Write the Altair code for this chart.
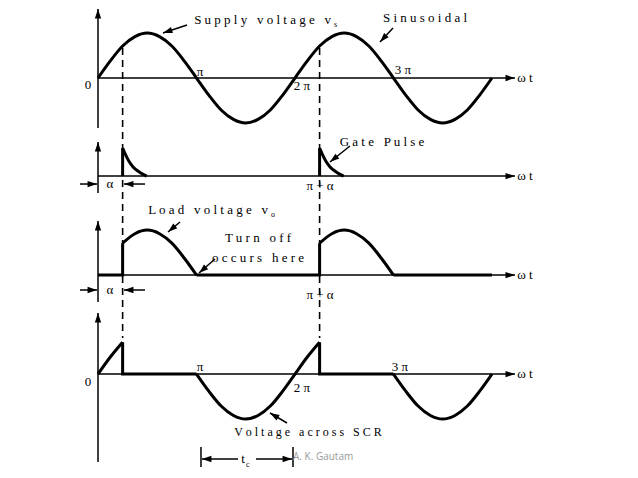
import math
import altair as alt
import pandas as pd

PI = math.pi

# ---------------- values ----------------
# supply voltage over two cycles, sampled every 22.5 degrees (level relative to the peak)
supply_phase_deg = [0, 22.5, 45, 67.5, 90, 112.5, 135, 157.5, 180, 202.5, 225, 247.5, 270, 292.5, 315, 337.5,
                    360, 382.5, 405, 427.5, 450, 472.5, 495, 517.5, 540, 562.5, 585, 607.5, 630, 652.5, 675, 697.5, 720]
supply_level = [0, 0.38, 0.71, 0.92, 1, 0.92, 0.71, 0.38, 0, -0.38, -0.71, -0.92, -1, -0.92, -0.71, -0.38,
                0, 0.38, 0.71, 0.92, 1, 0.92, 0.71, 0.38, 0, -0.38, -0.71, -0.92, -1, -0.92, -0.71, -0.38, 0]
firing_deg = [45, 405]          # alpha and 2*pi + alpha
turnoff_deg = [180, 540]        # pi and 3*pi
end_deg = 720                   # 4*pi
# gate pulse after each firing instant: offset (deg) and height
pulse_offset_deg = [0, 5.5, 11, 18, 26, 33, 44]
pulse_level = [0.62, 0.47, 0.34, 0.22, 0.13, 0.07, 0]

# tick / annotation texts
supply_ticks = ["0", "π", "2 π", "3 π"]
scr_ticks = ["0", "π", "2 π", "3 π"]
axis_label = "ω t"

# ---------------- layout ----------------
W, H = 622, 462
X_DOM = [-2.871, 16.970]
Y_DOM = [-8.711, 1.5556]
PXX = W / (X_DOM[1] - X_DOM[0])
PXY = H / (Y_DOM[1] - Y_DOM[0])
BASE = {"supply": 0.0, "gate": -2.18, "load": -4.38, "scr": -6.58}
X_TIP = 13.30
V_AXES = {"supply": (-1.11, 1.533), "gate": (-2.556, -1.422), "load": (-4.978, -3.178), "scr": (-8.533, -5.222)}

def rad(d):
    return d * PI / 180

lvl = dict(zip(supply_phase_deg, supply_level))
rows_arc, rows_straight, rows_thin, rows_dash, heads = [], [], [], [], []
_seg = [0]

def add(rows, pts):
    _seg[0] += 1
    for i, (x, y) in enumerate(pts):
        rows.append({"x": x, "y": y, "seg": _seg[0], "ord": i})

def arc(lo, hi, base):
    return [(rad(p), base + l) for p, l in zip(supply_phase_deg, supply_level) if lo <= p <= hi]

def arrow(x0, y0, x1, y1):
    add(rows_thin, [(x0, y0), (x1, y1)])
    dx = (x1 - x0) * PXX
    dy = -(y1 - y0) * PXY
    ang = math.degrees(math.atan2(dx, -dy)) % 360
    heads.append({"x": x1, "y": y1, "angle": ang})

# supply
add(rows_arc, arc(0, end_deg, BASE["supply"]))

# gate pulses
for f in firing_deg:
    b = BASE["gate"]
    add(rows_straight, [(rad(f), b), (rad(f), b + pulse_level[0])])
    add(rows_arc, [(rad(f + o), b + l) for o, l in zip(pulse_offset_deg, pulse_level)])

# load voltage
b = BASE["load"]
add(rows_straight, [(0, b), (rad(firing_deg[0]), b), (rad(firing_deg[0]), b + lvl[firing_deg[0]])])
add(rows_arc, arc(firing_deg[0], turnoff_deg[0], b))
add(rows_straight, [(rad(turnoff_deg[0]), b), (rad(firing_deg[1]), b),
                    (rad(firing_deg[1]), b + lvl[firing_deg[1]])])
add(rows_arc, arc(firing_deg[1], turnoff_deg[1], b))
add(rows_straight, [(rad(turnoff_deg[1]), b), (rad(end_deg), b)])

# voltage across SCR
b = BASE["scr"]
add(rows_arc, arc(0, firing_deg[0], b))
add(rows_straight, [(rad(firing_deg[0]), b + lvl[firing_deg[0]]), (rad(firing_deg[0]), b), (rad(turnoff_deg[0]), b)])
add(rows_arc, arc(turnoff_deg[0], firing_deg[1], b))
add(rows_straight, [(rad(firing_deg[1]), b + lvl[firing_deg[1]]), (rad(firing_deg[1]), b), (rad(turnoff_deg[1]), b)])
add(rows_arc, arc(turnoff_deg[1], end_deg, b))

# axes
for k, b in BASE.items():
    arrow(0, b, X_TIP, b)
    lo, hi = V_AXES[k]
    arrow(0, lo, 0, hi)

# dashed firing lines
for f in firing_deg:
    add(rows_dash, [(rad(f), 0.667), (rad(f), -5.778)])

# annotation arrows
arrow(2.839, 1.178, 2.073, 1.0)        # supply voltage
arrow(9.410, 1.111, 8.995, 0.8)        # sinusoidal
arrow(8.038, -1.511, 7.400, -1.867)    # gate pulse
arrow(2.616, -3.2, 2.233, -3.422)      # load voltage
arrow(3.732, -4.022, 3.222, -4.333)    # turn off
arrow(6.029, -7.667, 5.486, -7.444)    # voltage across SCR
for ya in (-2.356, -4.711):            # alpha markers
    arrow(-0.574, ya, -0.032, ya)
    arrow(1.499, ya, 0.829, ya)
# t_c dimension
arrow(4.466, -8.467, 3.317, -8.467)
arrow(5.04, -8.467, 6.188, -8.467)
add(rows_thin, [(3.285, -8.2), (3.285, -8.644)])
add(rows_thin, [(6.22, -8.2), (6.22, -8.644)])

NB = "\u00a0"
texts_center = [
    (-0.319, -0.156, supply_ticks[0], 13), (3.254, 0.133, supply_ticks[1], 13),
    (6.507, -0.178, supply_ticks[2], 13), (9.729, 0.178, supply_ticks[3], 13),
    (13.62, 0.0, axis_label, 13), (13.62, -2.178, axis_label, 13),
    (13.62, -4.378, axis_label, 13), (13.62, -6.578, axis_label, 13),
    (10.43, 1.333, "S i n u s o i d a l", 13),
    (9.059, -1.422, "G a t e" + NB + NB + " P u l s e", 13),
    (0.383, -2.356, "α", 13), (7.081, -2.4, "π + α", 13),
    (5.104, -3.556, "T u r n" + NB + NB + " o f f", 13),
    (5.104, -4.0, "o c c u r s" + NB + NB + " h e r e", 13),
    (0.383, -4.711, "α", 13), (7.081, -4.822, "π + α", 13),
    (-0.319, -6.756, scr_ticks[0], 13), (3.254, -6.422, scr_ticks[1], 13),
    (6.507, -6.889, scr_ticks[2], 13), (9.633, -6.422, scr_ticks[3], 13),
    (6.699, -7.867, "V o l t a g e" + NB + NB + " a c r o s s" + NB + NB + " S C R", 12),
    (4.625, -8.467, "t", 13),
]
texts_right = [
    (7.432, 1.289, "S u p p l y" + NB + NB + " v o l t a g e" + NB + NB + " v", 13),
    (5.423, -2.933, "L o a d" + NB + NB + " v o l t a g e" + NB + NB + " v", 13),
]
texts_left = [
    (7.528, 1.178, "s", 8),
    (5.518, -3.044, "o", 8),
    (4.72, -8.6, "c", 8),
]
credit = [(6.22, -8.422, "A. K. Gautam", 10)]

def tdf(lst):
    return pd.DataFrame(lst, columns=["x", "y", "text", "size"])

xs = alt.X("x:Q", scale=alt.Scale(domain=X_DOM, nice=False, zero=False), axis=None)
ys = alt.Y("y:Q", scale=alt.Scale(domain=Y_DOM, nice=False, zero=False), axis=None)

def lines(rows, **kw):
    return alt.Chart(pd.DataFrame(rows)).mark_line(color="black", **kw).encode(
        x=xs, y=ys, detail="seg:N", order=alt.Order("ord:Q"))

HEAD = "M0,0L-0.6,1.8L0.6,1.8Z"

layers = [
    lines(rows_thin, strokeWidth=1.5),
    lines(rows_dash, strokeWidth=1.6, strokeDash=[7, 5]),
    lines(rows_straight, strokeWidth=3),
    lines(rows_arc, strokeWidth=3, interpolate="monotone"),
    alt.Chart(pd.DataFrame(heads)).mark_point(shape=HEAD, filled=True, color="black", opacity=1,
                                              size=110, strokeWidth=0).encode(
        x=xs, y=ys, angle=alt.Angle("angle:Q", scale=None)),
]
for lst, al in ((texts_center, "center"), (texts_right, "right"), (texts_left, "left")):
    layers.append(alt.Chart(tdf(lst)).mark_text(font="Liberation Serif", align=al,
                                                baseline="middle").encode(
        x=xs, y=ys, text="text:N", color=alt.value("#000000"),
        size=alt.Size("size:Q", scale=None, legend=None)))
layers.append(alt.Chart(tdf(credit)).mark_text(font="Open Sans", align="left",
                                               baseline="middle").encode(
    x=xs, y=ys, text="text:N", color=alt.value("#9a9a9a"),
    size=alt.Size("size:Q", scale=None, legend=None)))

chart = alt.layer(*layers).properties(
    width=W, height=H, padding=0, autosize=alt.AutoSizeParams(type="none")
).configure_view(stroke=None)

chart.save("out.html", embed_options={"renderer": "svg", "actions": False})
